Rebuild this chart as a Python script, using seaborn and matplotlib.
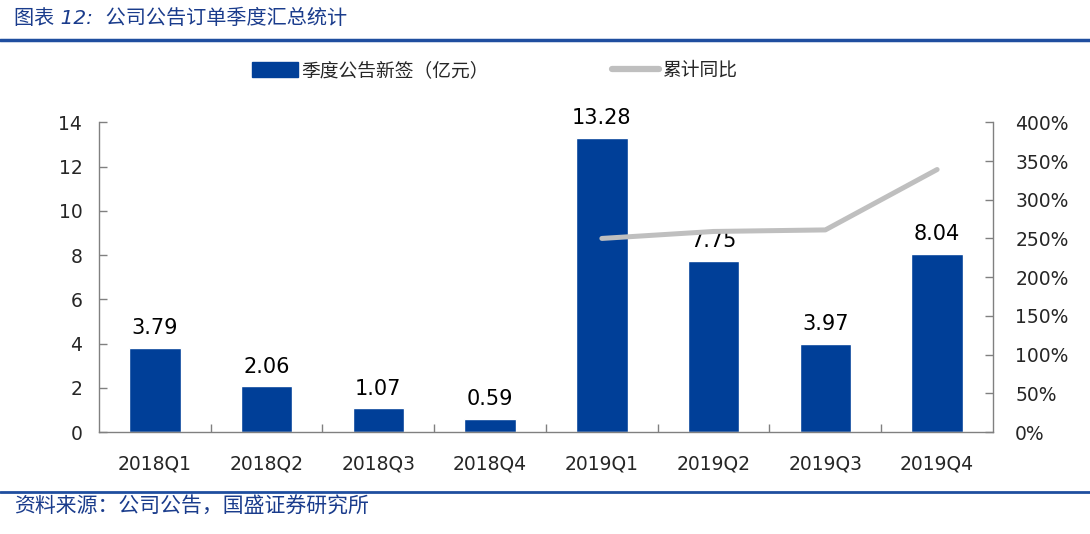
import numpy as np
import pandas as pd
import seaborn as sns
import matplotlib.pyplot as plt
from matplotlib.patches import Patch
from matplotlib.lines import Line2D
from matplotlib.ticker import FixedLocator, PercentFormatter

quarters = ["2018Q1", "2018Q2", "2018Q3", "2018Q4", "2019Q1", "2019Q2", "2019Q3", "2019Q4"]
new_orders = [3.79, 2.06, 1.07, 0.59, 13.28, 7.75, 3.97, 8.04]
cum_yoy = [np.nan, np.nan, np.nan, np.nan, 250, 259, 261, 339]

bar_label = "季度公告新签（亿元）"
line_label = "累计同比"
title = "图表 12:  公司公告订单季度汇总统计"
source = "资料来源：公司公告，国盛证券研究所"

BLUE = "#003F98"
GRAY = "#BFBFBF"
AXIS = "#808080"
NAVY = "#1A3C8C"

sns.set_theme(style="white")
plt.rcParams["font.family"] = ["DejaVu Sans", "Noto Sans CJK SC"]

df = pd.DataFrame({"quarter": quarters, "orders": new_orders, "yoy": cum_yoy})
df["pos"] = np.arange(len(df))

fig = plt.figure(figsize=(10.9, 5.34), dpi=100)
ax = fig.add_axes([0.0908, 0.191, 0.8202, 0.580])

sns.barplot(data=df, x="quarter", y="orders", color=BLUE, width=0.46,
            saturation=1, ax=ax, zorder=2)
ax.set_ylim(0, 14)
ax.set_yticks(range(0, 15, 2))
ax.set_xlim(-0.5, len(quarters) - 0.5)
ax.set_xlabel("")
ax.set_ylabel("")

for p, v in zip(ax.patches, new_orders):
    ax.annotate(f"{v:.2f}", (p.get_x() + p.get_width() / 2, p.get_height()),
                xytext=(0, 7), textcoords="offset points", ha="center", va="bottom",
                fontsize=15, color="black")

ax2 = ax.twinx()
sub = df.dropna(subset=["yoy"])
sns.lineplot(x=sub["pos"], y=sub["yoy"], color=GRAY, linewidth=3.6, ax=ax2,
             solid_capstyle="round", zorder=3)
ax2.set_ylim(0, 400)
ax2.set_yticks(range(0, 401, 50))
ax2.yaxis.set_major_formatter(PercentFormatter(decimals=0))
ax2.set_xlabel("")
ax2.set_ylabel("")

for a in (ax, ax2):
    for s in a.spines.values():
        s.set_visible(False)
ax.spines["left"].set_visible(True)
ax.spines["bottom"].set_visible(True)
ax2.spines["right"].set_visible(True)
for s in (ax.spines["left"], ax.spines["bottom"], ax2.spines["right"]):
    s.set_color(AXIS)
    s.set_linewidth(1)

ax.tick_params(axis="y", direction="in", length=6, color=AXIS, width=1,
               labelsize=13.5, pad=12, left=True)
ax2.tick_params(axis="y", direction="in", length=6, color=AXIS, width=1,
                labelsize=13.5, pad=16, right=True)
ax.tick_params(axis="x", which="major", length=0, labelsize=13.5, pad=16)
ax.xaxis.set_minor_locator(FixedLocator(np.arange(0.5, len(quarters) - 1, 1)))
ax.tick_params(axis="x", which="minor", direction="in", length=6, color=AXIS,
               width=1, bottom=True)
ax.grid(False)
ax2.grid(False)

handles = [Patch(facecolor=BLUE, edgecolor=BLUE, label=bar_label),
           Line2D([0], [0], color=GRAY, linewidth=4.5, solid_capstyle="round", label=line_label)]
fig.legend(handles=handles, loc="center", bbox_to_anchor=(0.4535, 0.868), ncol=2,
           frameon=False, handlelength=2.5, handleheight=0.85,
           handletextpad=0.15, columnspacing=6.6,
           prop={"family": ["Noto Sans CJK SC"], "size": 13.5})

fig.text(0.013, 0.965, title, fontsize=14.5, color=NAVY, style="italic",
         ha="left", va="center", family=["DejaVu Sans", "Noto Sans CJK SC"])
fig.add_artist(Line2D([0, 1], [0.925, 0.925], color="#1F4E9F", linewidth=2.5,
                      transform=fig.transFigure))
fig.add_artist(Line2D([0, 1], [0.079, 0.079], color="#1F4E9F", linewidth=2,
                      transform=fig.transFigure))
fig.text(0.013, 0.052, source, fontsize=15, color=NAVY, style="italic",
         ha="left", va="center", family=["Noto Sans CJK SC", "DejaVu Sans"])

fig.savefig("out.png", dpi=100)
